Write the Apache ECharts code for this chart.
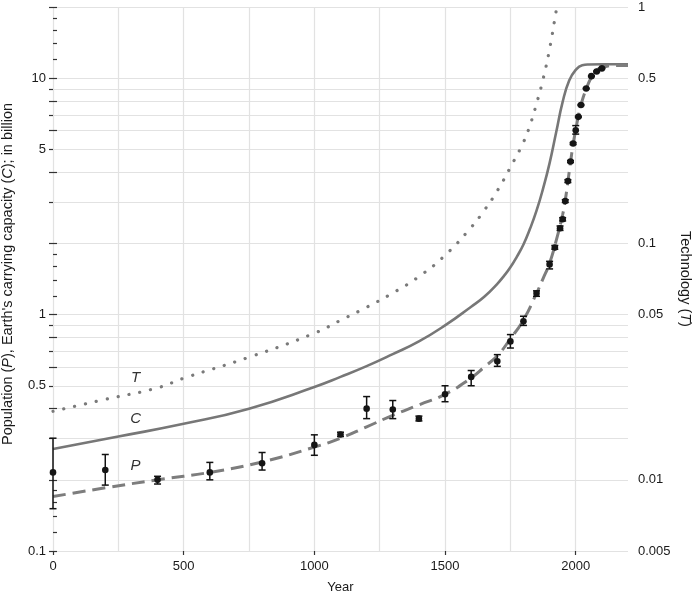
<!DOCTYPE html>
<html>
<head>
<meta charset="utf-8">
<script src="https://cdn.jsdelivr.net/npm/echarts@6/dist/echarts.min.js"></script>
<style>
html, body { margin: 0; padding: 0; background: #fff; }
#main { width: 694px; height: 598px; }
</style>
</head>
<body>
<div id="main"></div>
<script>
// population estimates with error bars (billion)
var years    = [0, 200, 400, 600, 800, 1000, 1100, 1200, 1300, 1400, 1500, 1600, 1700, 1750, 1800, 1850, 1900, 1920, 1940, 1950, 1960, 1970, 1980, 1990, 2000, 2010, 2020, 2040, 2060, 2080, 2100];
var popMean  = [0.215, 0.22, 0.2, 0.215, 0.235, 0.281, 0.311, 0.40, 0.397, 0.363, 0.46, 0.545, 0.634, 0.77, 0.937, 1.23, 1.63, 1.92, 2.32, 2.53, 3.02, 3.67, 4.44, 5.29, 6.02, 6.86, 7.7, 9.04, 10.2, 10.67, 11.0];
var popLow   = [0.151, 0.19, 0.192, 0.2, 0.22, 0.254, 0.305, 0.363, 0.363, 0.355, 0.428, 0.50, 0.604, 0.722, 0.90, 1.195, 1.56, 1.89, 2.27, 2.49, 2.98, 3.62, 4.40, 5.24, 5.80, 6.82, 7.66, 9.0, 10.15, 10.62, 10.95];
var popHigh  = [0.30, 0.256, 0.207, 0.237, 0.261, 0.31, 0.318, 0.45, 0.433, 0.372, 0.50, 0.58, 0.677, 0.823, 0.984, 1.26, 1.68, 1.96, 2.37, 2.57, 3.06, 3.72, 4.48, 5.34, 6.30, 6.9, 7.74, 9.08, 10.25, 10.72, 11.05];

// model curves
var capYears  = [0, 250, 500, 750, 1000, 1100, 1200, 1300, 1400, 1500, 1600, 1650, 1700, 1725, 1750, 1775, 1800, 1825, 1850, 1875, 1900, 1925, 1950, 1975, 2000, 2025, 2050, 2100, 2200];
var capValues = [0.27, 0.305, 0.345, 0.40, 0.494, 0.545, 0.605, 0.68, 0.77, 0.9, 1.08, 1.19, 1.35, 1.455, 1.585, 1.76, 1.98, 2.305, 2.75, 3.41, 4.37, 5.89, 7.94, 9.77, 10.84, 11.35, 11.43, 11.45, 11.45];

var pYears  = [0, 200, 400, 600, 800, 1000, 1100, 1200, 1300, 1400, 1500, 1600, 1650, 1700, 1750, 1800, 1850, 1875, 1900, 1925, 1950, 1960, 1970, 1980, 1990, 2000, 2010, 2020, 2040, 2060, 2080, 2100, 2150, 2200];
var pValues = [0.17, 0.185, 0.2, 0.215, 0.238, 0.275, 0.3, 0.335, 0.375, 0.415, 0.46, 0.54, 0.6, 0.67, 0.79, 0.95, 1.23, 1.42, 1.65, 2.05, 2.65, 3.05, 3.65, 4.4, 5.25, 6.05, 6.9, 7.7, 9.0, 10.1, 10.8, 11.1, 11.3, 11.3];

var techYears  = [0, 200, 400, 500, 750, 1000, 1100, 1200, 1300, 1400, 1500, 1600, 1650, 1700, 1750, 1800, 1825, 1850, 1875, 1900, 1925, 1940];
var techValues = [0.0195, 0.0219, 0.0245, 0.0269, 0.033, 0.0417, 0.0473, 0.0537, 0.0617, 0.0724, 0.0891, 0.117, 0.138, 0.167, 0.21, 0.268, 0.316, 0.39, 0.495, 0.665, 0.96, 1.2];

// curve name labels: [year, value on the curve]
var labelT = [316, 0.0234];
var labelC = [316, 0.315];
var labelP = [316, 0.194];

// axes
var xTicks = [0, 500, 1000, 1500, 2000];
var xGrid = [0, 250, 500, 750, 1000, 1250, 1500, 1750, 2000];
var leftTicks = [0.1, 0.2, 0.3, 0.4, 0.5, 0.6, 0.7, 0.8, 0.9, 1, 2, 3, 4, 5, 6, 7, 8, 9, 10, 20];
var leftLabels = [0.1, 0.5, 1, 5, 10];
var rightTicks = [0.005, 0.006, 0.007, 0.008, 0.009, 0.01, 0.02, 0.03, 0.04, 0.05, 0.06, 0.07, 0.08, 0.09, 0.1, 0.2, 0.3, 0.4, 0.5, 0.6, 0.7, 0.8, 0.9, 1];
var rightLabels = [0.005, 0.01, 0.05, 0.1, 0.5, 1];

function zip(a, b) {
    return a.map(function (v, i) { return [v, b[i]]; });
}
function plain(v) { return String(v); }

var font = 'Liberation Sans, Arial, Helvetica, sans-serif';
var tickStyle = { show: true, length: 4, lineStyle: { color: '#333', width: 1.2 } };
var gridColor = '#e2e2e2';
var titleStyle = {
    fontSize: 14.5, color: '#1a1a1a', fontFamily: font,
    rich: { i: { fontStyle: 'italic', fontSize: 14.5, color: '#1a1a1a', fontFamily: font } }
};

var chart = echarts.init(document.getElementById('main'));

var option = {
    backgroundColor: '#fff',
    animation: false,
    textStyle: { fontFamily: font },
    grid: { left: 53, right: 66, top: 7, bottom: 47, outerBoundsMode: 'none' },
    xAxis: [
        {
            type: 'value',
            min: 0,
            max: 2200,
            interval: 500,
            name: 'Year',
            nameLocation: 'middle',
            nameGap: 30,
            nameTextStyle: { fontSize: 13, color: '#1a1a1a', fontFamily: font },
            axisLine: { show: false },
            axisTick: Object.assign({ customValues: xTicks }, tickStyle),
            axisLabel: { customValues: xTicks, formatter: plain, fontSize: 13, color: '#1a1a1a', margin: 9, fontFamily: font },
            splitLine: { show: false }
        },
        {
            // only for the vertical grid every 250 years
            type: 'value',
            min: 0,
            max: 2200,
            interval: 250,
            axisLine: { show: false },
            axisTick: { show: false, customValues: xGrid },
            axisLabel: { show: false },
            splitLine: { show: true, lineStyle: { color: gridColor, width: 1.2 } }
        }
    ],
    yAxis: [
        {
            type: 'log',
            logBase: 10,
            min: 0.1,
            max: 20,
            position: 'left',
            name: 'Population ({i|P}), Earth\'s carrying capacity ({i|C}); in billion',
            nameLocation: 'middle',
            nameGap: 38,
            nameRotate: 90,
            nameTextStyle: Object.assign({ padding: [0, 0, 0, 10] }, titleStyle),
            axisLine: { show: false },
            axisTick: Object.assign({ customValues: leftTicks }, tickStyle),
            axisLabel: { customValues: leftLabels, formatter: plain, fontSize: 13, color: '#1a1a1a', margin: 7, fontFamily: font },
            splitLine: { show: true, lineStyle: { color: gridColor, width: 1.2 } }
        },
        {
            type: 'log',
            logBase: 10,
            min: 0.005,
            max: 1,
            position: 'right',
            name: 'Technology ({i|T})',
            nameLocation: 'middle',
            nameGap: 57,
            nameRotate: -90,
            nameMoveOverlap: false,
            nameTextStyle: Object.assign({ verticalAlign: 'middle' }, titleStyle),
            axisLine: { show: false },
            axisTick: Object.assign({ customValues: rightTicks }, tickStyle),
            axisLabel: { customValues: rightLabels, formatter: plain, fontSize: 13, color: '#1a1a1a', margin: 10, fontFamily: font },
            splitLine: { show: false }
        }
    ],
    series: [
        {
            name: 'T',
            type: 'line',
            yAxisIndex: 1,
            data: zip(techYears, techValues),
            smooth: 0.5,
            showSymbol: false,
            lineStyle: { color: '#7a7a7a', width: 3.2, type: [0.1, 11], cap: 'round' },
            markPoint: {
                symbol: 'circle', symbolSize: 0, silent: true,
                label: { show: true, formatter: 'T', position: 'inside', offset: [0, -15], fontStyle: 'italic', fontSize: 15, color: '#333', fontFamily: font },
                data: [{ coord: labelT }]
            }
        },
        {
            name: 'C',
            type: 'line',
            data: zip(capYears, capValues),
            smooth: 0.5,
            showSymbol: false,
            lineStyle: { color: '#777', width: 2.6 },
            markPoint: {
                symbol: 'circle', symbolSize: 0, silent: true,
                label: { show: true, formatter: 'C', position: 'inside', offset: [0, -14], fontStyle: 'italic', fontSize: 15, color: '#333', fontFamily: font },
                data: [{ coord: labelC }]
            }
        },
        {
            name: 'P',
            type: 'line',
            data: zip(pYears, pValues),
            smooth: 0.5,
            showSymbol: false,
            lineStyle: { color: '#7d7d7d', width: 3, type: [13, 7] },
            markPoint: {
                symbol: 'circle', symbolSize: 0, silent: true,
                label: { show: true, formatter: 'P', position: 'inside', offset: [0, -17], fontStyle: 'italic', fontSize: 15, color: '#333', fontFamily: font },
                data: [{ coord: labelP }]
            }
        },
        {
            name: 'data',
            type: 'custom',
            z: 5,
            data: years.map(function (y, i) { return [y, popMean[i], popLow[i], popHigh[i]]; }),
            encode: { x: 0, y: [1, 2, 3] },
            renderItem: function (params, api) {
                var x = api.value(0);
                var c = api.coord([x, api.value(1)]);
                var lo = api.coord([x, api.value(2)]);
                var hi = api.coord([x, api.value(3)]);
                var w = 3.5;
                var st = { stroke: '#111', lineWidth: 1.5 };
                return {
                    type: 'group',
                    children: [
                        { type: 'line', shape: { x1: c[0], y1: hi[1], x2: c[0], y2: lo[1] }, style: st },
                        { type: 'line', shape: { x1: c[0] - w, y1: hi[1], x2: c[0] + w, y2: hi[1] }, style: st },
                        { type: 'line', shape: { x1: c[0] - w, y1: lo[1], x2: c[0] + w, y2: lo[1] }, style: st },
                        { type: 'circle', shape: { cx: c[0], cy: c[1], r: 3.3 }, style: { fill: '#151515' } }
                    ]
                };
            }
        }
    ]
};

chart.setOption(option);
</script>
</body>
</html>
